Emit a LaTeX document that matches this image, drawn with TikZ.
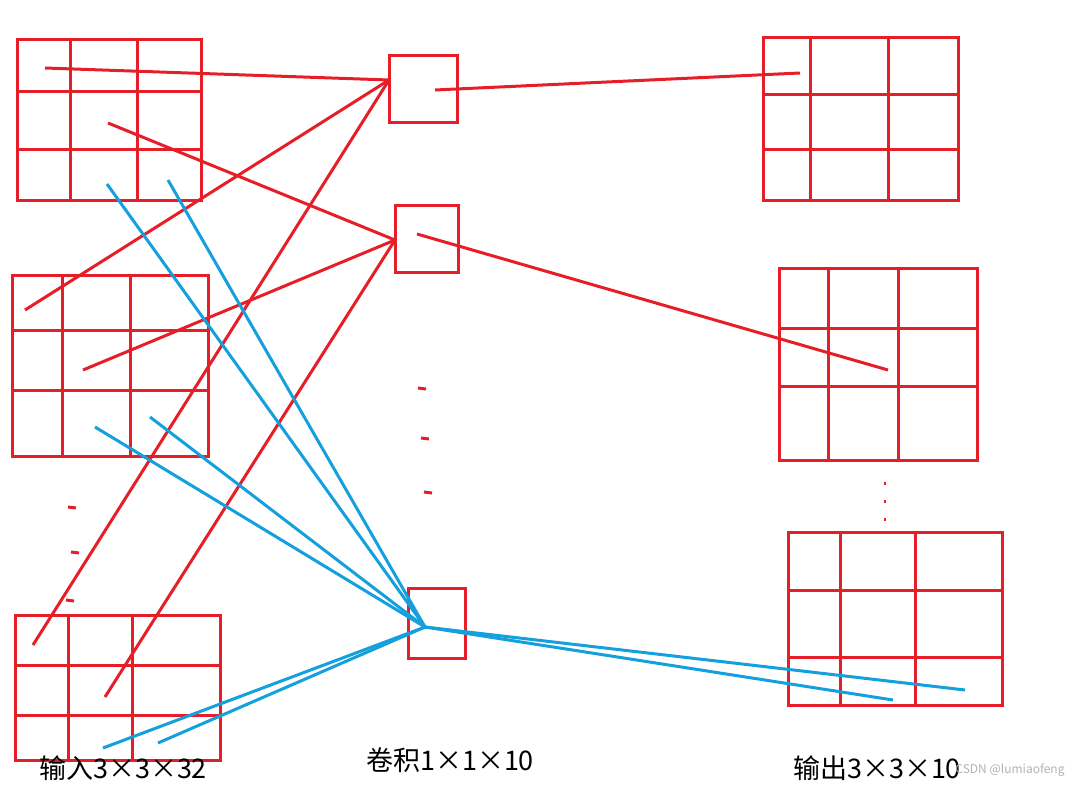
\documentclass[tikz,border=0pt]{standalone}
\usepackage{fontspec}
\setmainfont{Noto Sans CJK SC}
\begin{document}
\begin{tikzpicture}[x=1pt,y=-1pt,
  red/.style={draw={rgb,255:red,230;green,30;blue,40},line width=3pt},
  blue/.style={draw={rgb,255:red,20;green,160;blue,220},line width=3pt},
  lab/.style={font=\fontsize{27}{30}\selectfont}]
\useasboundingbox (0,0) rectangle (1092,789);
\newcommand\grid[8]{%
  \draw[red] (#1,#3) rectangle (#2,#4);
  \draw[red] (#5,#3) -- (#5,#4) (#6,#3) -- (#6,#4) (#1,#7) -- (#2,#7) (#1,#8) -- (#2,#8);}
\grid{17}{201}{40}{200}{70}{137}{92}{150}
\grid{12}{208}{275}{456}{62}{130}{330}{390}
\grid{15}{220}{615}{760}{68}{132}{665}{715}
\grid{763}{958}{38}{200}{810}{888}{95}{150}
\grid{779}{977}{268}{460}{828}{898}{328}{386}
\grid{788}{1002}{532}{705}{840}{915}{590}{657}
\node[red,minimum width=68pt,minimum height=67pt,inner sep=0] (b1) at (423,89.5) {};
\node[red,minimum width=63pt,minimum height=67pt,inner sep=0] (b2) at (426.5,238.5) {};
\node[red,minimum width=57pt,minimum height=70pt,inner sep=0] (b3) at (436.5,623) {};
\coordinate (p1) at (389,80); \coordinate (p2) at (395,240); \coordinate (p3) at (425,627);
\draw[red] (45,68) -- (p1); \draw[red] (435,90) -- (800,73);
\draw[red] (108,123) -- (p2); \draw[red] (417,234) -- (888,370);
\draw[red] (25,310) -- (p1); \draw[red] (83,370) -- (p2);
\draw[red] (33,645) -- (p1); \draw[red] (105,697) -- (p2);
\foreach \a in {(107,184),(168,180),(95,427),(150,417),(103,748),(158,743),(893,700),(965,690)}
  \draw[blue] \a -- (p3);
\foreach \a in {(72,507),(75,552),(70,600),(422,388),(425,438),(428,492)}
  \draw[red] \a ++(-4,0) -- ++(8,1);
\foreach \a in {(885,482),(885,500),(885,518)}
  \draw[red,line width=2pt] \a -- ++(0,3);
\node[lab] (t1) at (123,768) {输入3×3×32};
\node[lab] (t2) at (450,760) {卷积1×1×10};
\node[lab] (t3) at (877,768) {输出3×3×10};
\node[font=\fontsize{12}{14}\selectfont,text=gray!60] (w) at (1010,770) {CSDN @lumiaofeng};
\end{tikzpicture}
\end{document}
